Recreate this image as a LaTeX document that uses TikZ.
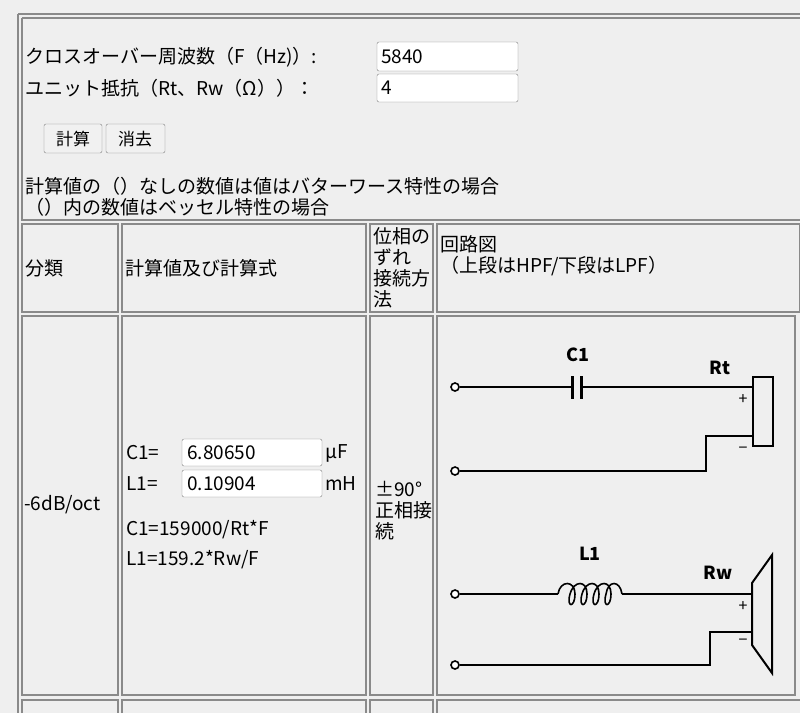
\documentclass[tikz,border=0pt]{standalone}
\usepackage{fontspec}
\setmainfont{Noto Sans CJK JP}
\definecolor{bg}{HTML}{EFEFEF}
\definecolor{cellline}{HTML}{8A8A8A}
\begin{document}
\begin{tikzpicture}[
    x = 1pt,
    y = -1pt,
    cell/.style = {draw=cellline, line width=1.2pt},
    inbox/.style = {draw=gray, fill=white, rounded corners=2pt},
    button/.style = {draw=gray, fill=bg!90!white, rounded corners=2pt},
    txt/.style = {anchor=west, inner sep=0pt, font=\fontsize{19}{21}\selectfont},
    partname/.style = {font=\bfseries\fontsize{18}{20}\selectfont},
    sign/.style = {font=\fontsize{16}{17}\selectfont},
    wire/.style = {line width=2pt},
    term/.style = {circle, draw, line width=1.6pt, fill=white, minimum size=8pt, inner sep=0pt},
]

\fill[bg] (0,0) rectangle (800,713);
\useasboundingbox (0,0) rectangle (800,713);

% outer frame
\draw[cell] (18,14) -- (800,14);
\draw[cell] (18,14) -- (18,713);
\draw[cell] (22,18) -- (800,18);
\draw[cell] (22,18) -- (22,220) -- (800,220);

% form
\node[txt] (freq) at (25,57) {クロスオーバー周波数（F（Hz)）:};
\node[txt] (imp) at (25,88) {ユニット抵抗（Rt、Rw（Ω））：};
\draw[inbox] (377,42) rectangle (518,71);
\draw[inbox] (377,74) rectangle (518,102);
\node[txt] (freqval) at (381,57) {5840};
\node[txt] (impval) at (381,88) {4};
\draw[button] (44,124) rectangle (102,153);
\draw[button] (106,124) rectangle (165,153);
\node (calc) at (73,139) {\fontsize{17}{19}\selectfont 計算};
\node (clear) at (135,139) {\fontsize{17}{19}\selectfont 消去};
\node[txt] (note1) at (25,186) {計算値の（）なしの数値は値はバターワース特性の場合};
\node[txt] (note2) at (25,207) {（）内の数値はベッセル特性の場合};

% table cells
\draw[cell] (22,224) rectangle (118,312);
\draw[cell] (122,224) rectangle (366,312);
\draw[cell] (370,224) rectangle (433,312);
\draw[cell] (437,224) rectangle (800,312);
\draw[cell] (22,316) rectangle (118,695);
\draw[cell] (122,316) rectangle (366,695);
\draw[cell] (370,316) rectangle (433,695);
\draw[cell] (437,316) rectangle (795,695);
\draw[cell] (22,713) -- (22,700) -- (118,700) -- (118,713);
\draw[cell] (122,713) -- (122,700) -- (366,700) -- (366,713);
\draw[cell] (370,713) -- (370,700) -- (433,700) -- (433,713);
\draw[cell] (437,713) -- (437,700) -- (800,700);

% header
\node[txt] (hclass) at (25,268) {分類};
\node[txt] (hcalc) at (125,268) {計算値及び計算式};
\node[txt, align=left, font=\fontsize{19}{21}\selectfont] (hphase) at (373,268) {位相の\\ずれ\\接続方\\法};
\node[txt, align=left] (hcirc) at (440,256) {回路図\\（上段はHPF/下段はLPF）};

% body
\node[txt] (slope) at (24,505) {-6dB/oct};
\node[txt] (c1lab) at (126,453) {C1=};
\node[txt] (l1lab) at (126,484) {L1=};
\draw[inbox] (182,439) rectangle (322,466);
\draw[inbox] (182,470) rectangle (322,497);
\node[txt] (c1val) at (187,453) {6.80650};
\node[txt] (l1val) at (187,484) {0.10904};
\node[txt] (c1unit) at (325,453) {µF};
\node[txt] (l1unit) at (325,484) {mH};
\node[txt] (c1eq) at (126,530) {C1=159000/Rt*F};
\node[txt] (l1eq) at (126,560) {L1=159.2*Rw/F};
\node[txt, align=left] (phase) at (375,511) {±90°\\正相接\\続};

% HPF circuit
\node[term] (t1) at (455,387) {};
\node[term] (t2) at (455,471) {};
\coordinate (ca) at (572,387);
\coordinate (cb) at (581,387);
\draw[wire] (t1) -- (ca);
\draw[line width=3pt] (572,376) -- (572,399);
\draw[line width=3pt] (581,376) -- (581,399);
\draw[wire] (cb) -- (753,387);
\draw[wire] (753,377) rectangle (773,446);
\draw[wire] (t2) -- (706,471) -- (706,436) -- (753,436);
\node[partname] (c1name) at (578,355) {C1};
\node[partname] (rtname) at (720,368) {Rt};
\node[sign] (tp) at (743,400) {+};
\node[sign] (tm) at (743,450) {−};

% LPF circuit
\node[term] (t3) at (455,594) {};
\node[term] (t4) at (455,665) {};
\draw[wire] (t3) -- (558,594);
\draw[line width=1.6pt] (558,594) .. controls (560,580) and (575,580) .. (575,594)
  .. controls (575,608) and (566,608) .. (570,594)
  .. controls (574,580) and (587,580) .. (587,594)
  .. controls (587,608) and (578,608) .. (582,594)
  .. controls (586,580) and (599,580) .. (599,594)
  .. controls (599,608) and (590,608) .. (594,594)
  .. controls (598,580) and (611,580) .. (611,594)
  .. controls (611,608) and (602,608) .. (606,594)
  .. controls (608,580) and (620,580) .. (622,594);
\draw[wire] (622,594) -- (752,594);
\draw[wire] (752,583) -- (772,555) -- (772,673) -- (752,645) -- cycle;
\draw[wire] (t4) -- (710,665) -- (710,632) -- (752,632);
\node[partname] (l1name) at (590,554) {L1};
\node[partname] (rwname) at (718,573) {Rw};
\node[sign] (wp) at (743,607) {+};
\node[sign] (wm) at (743,642) {−};

\end{tikzpicture}
\end{document}
